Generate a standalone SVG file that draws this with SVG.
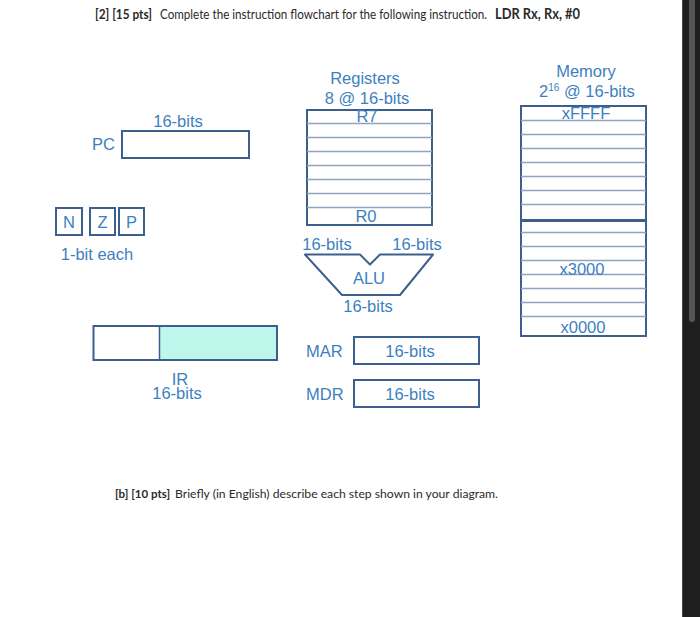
<svg xmlns="http://www.w3.org/2000/svg" width="700" height="617" viewBox="0 0 700 617">
<style>
.lbl{font-family:"Liberation Sans",Arial,sans-serif;fill:#3d7fc0;font-size:16.5px}
.box{fill:#fff;stroke:#3c5f8e;stroke-width:2}
.row{stroke:#8fa5bf;stroke-width:1.3}
.hd{font-family:Lato,"Open Sans",sans-serif;fill:#2a2a2a}
</style>
<rect width="700" height="617" fill="#fff"/>
<g id="header">
<text class="hd" x="95" y="19" font-size="13.5" font-weight="bold" textLength="57" lengthAdjust="spacingAndGlyphs">[2] [15 pts]</text>
<text class="hd" x="160" y="19" font-size="13.5" fill="#333" textLength="327" lengthAdjust="spacingAndGlyphs">Complete the instruction flowchart for the following instruction.</text>
<text class="hd" x="495" y="19" font-size="15" font-weight="bold" fill="#111" textLength="85" lengthAdjust="spacingAndGlyphs">LDR Rx, Rx, #0</text>
</g>
<g id="registers">
<text class="lbl" x="365" y="84" text-anchor="middle">Registers</text>
<text class="lbl" x="367" y="104" text-anchor="middle">8 @ 16-bits</text>
<rect class="box" x="307" y="110" width="125" height="115"/>
<g class="row">
<line x1="307" y1="123.5" x2="432" y2="123.5"/>
<line x1="307" y1="137.5" x2="432" y2="137.5"/>
<line x1="307" y1="151.5" x2="432" y2="151.5"/>
<line x1="307" y1="165.5" x2="432" y2="165.5"/>
<line x1="307" y1="179.5" x2="432" y2="179.5"/>
<line x1="307" y1="193.5" x2="432" y2="193.5"/>
<line x1="307" y1="207.5" x2="432" y2="207.5"/>
</g>
<text class="lbl" x="367" y="122" text-anchor="middle" font-size="15">R7</text>
<text class="lbl" x="366" y="222" text-anchor="middle" font-size="15">R0</text>
</g>
<g id="memory">
<text class="lbl" x="586" y="77" text-anchor="middle">Memory</text>
<text class="lbl" x="587" y="97" text-anchor="middle">2<tspan font-size="10" dy="-6">16</tspan><tspan dy="6"> @ 16-bits</tspan></text>
<rect class="box" x="521" y="106" width="125" height="230"/>
<g class="row">
<line x1="521" y1="120.5" x2="646" y2="120.5"/>
<line x1="521" y1="134.5" x2="646" y2="134.5"/>
<line x1="521" y1="148.5" x2="646" y2="148.5"/>
<line x1="521" y1="162.5" x2="646" y2="162.5"/>
<line x1="521" y1="176.5" x2="646" y2="176.5"/>
<line x1="521" y1="190.5" x2="646" y2="190.5"/>
<line x1="521" y1="204.5" x2="646" y2="204.5"/>
<line x1="521" y1="232.5" x2="646" y2="232.5"/>
<line x1="521" y1="246.5" x2="646" y2="246.5"/>
<line x1="521" y1="260.5" x2="646" y2="260.5"/>
<line x1="521" y1="274.5" x2="646" y2="274.5"/>
<line x1="521" y1="288.5" x2="646" y2="288.5"/>
<line x1="521" y1="302.5" x2="646" y2="302.5"/>
<line x1="521" y1="316.5" x2="646" y2="316.5"/>
</g>
<line x1="521" y1="220.5" x2="646" y2="220.5" stroke="#3c5f8e" stroke-width="3"/>
<text class="lbl" x="586" y="119" text-anchor="middle" font-size="14.5">xFFFF</text>
<text class="lbl" x="582" y="275" text-anchor="middle" font-size="15">x3000</text>
<text class="lbl" x="583" y="333" text-anchor="middle" font-size="15">x0000</text>
</g>
<g id="pc">
<text class="lbl" x="178" y="127" text-anchor="middle">16-bits</text>
<text class="lbl" x="92" y="150">PC</text>
<rect class="box" x="122" y="131" width="127" height="27"/>
</g>
<g id="nzp">
<rect class="box" x="56" y="208" width="26" height="27" stroke-width="1.3" stroke="#7f95b0"/>
<rect class="box" x="90" y="208" width="25" height="27" stroke-width="1.3" stroke="#7f95b0"/>
<rect class="box" x="119" y="208" width="25" height="27" stroke-width="1.3" stroke="#7f95b0"/>
<text class="lbl" x="69" y="228" text-anchor="middle">N</text>
<text class="lbl" x="102.5" y="228" text-anchor="middle">Z</text>
<text class="lbl" x="131.5" y="228" text-anchor="middle">P</text>
<text class="lbl" x="97" y="260" text-anchor="middle" font-size="17">1-bit each</text>
</g>
<g id="alu">
<text class="lbl" x="327" y="250" text-anchor="middle">16-bits</text>
<text class="lbl" x="417" y="250" text-anchor="middle">16-bits</text>
<polygon points="305,254.5 360,254.5 370,264.5 380,254.5 433,254.5 400,295 342,295" fill="#fff" stroke="#3c5f8e" stroke-width="2" stroke-linejoin="round"/>
<text class="lbl" x="369" y="284" text-anchor="middle">ALU</text>
<text class="lbl" x="368" y="312" text-anchor="middle">16-bits</text>
</g>
<g id="ir">
<rect x="159.5" y="326" width="117.5" height="34" fill="#bff6ec"/>
<rect x="93.5" y="326" width="183.5" height="34" fill="none" stroke="#3c5f8e" stroke-width="2"/>
<line x1="159.5" y1="326" x2="159.5" y2="360" stroke="#3c5f8e" stroke-width="1.5"/>
<text class="lbl" x="180" y="385" text-anchor="middle">IR</text>
<text class="lbl" x="177" y="399" text-anchor="middle">16-bits</text>
</g>
<g id="mar">
<text class="lbl" x="306" y="357">MAR</text>
<rect class="box" x="354" y="337" width="125" height="27"/>
<text class="lbl" x="410" y="357" text-anchor="middle">16-bits</text>
</g>
<g id="mdr">
<text class="lbl" x="306" y="400">MDR</text>
<rect class="box" x="354" y="380" width="125" height="27"/>
<text class="lbl" x="410" y="400" text-anchor="middle">16-bits</text>
</g>
<g id="partb">
<text class="hd" x="115" y="498" font-size="11.5" font-weight="bold" textLength="55" lengthAdjust="spacingAndGlyphs">[b] [10 pts]</text>
<text class="hd" x="175" y="498" font-size="11.5" textLength="323" lengthAdjust="spacingAndGlyphs">Briefly (in English) describe each step shown in your diagram.</text>
</g>
<g id="connectors"></g>
<g id="scrollbar">
<rect x="682" y="0" width="18" height="617" fill="#1e1e1e"/>
<line x1="682.5" y1="0" x2="682.5" y2="617" stroke="#444" stroke-width="1"/>
<rect x="689" y="-4" width="6" height="326" rx="3" fill="#555"/>
</g>
</svg>
